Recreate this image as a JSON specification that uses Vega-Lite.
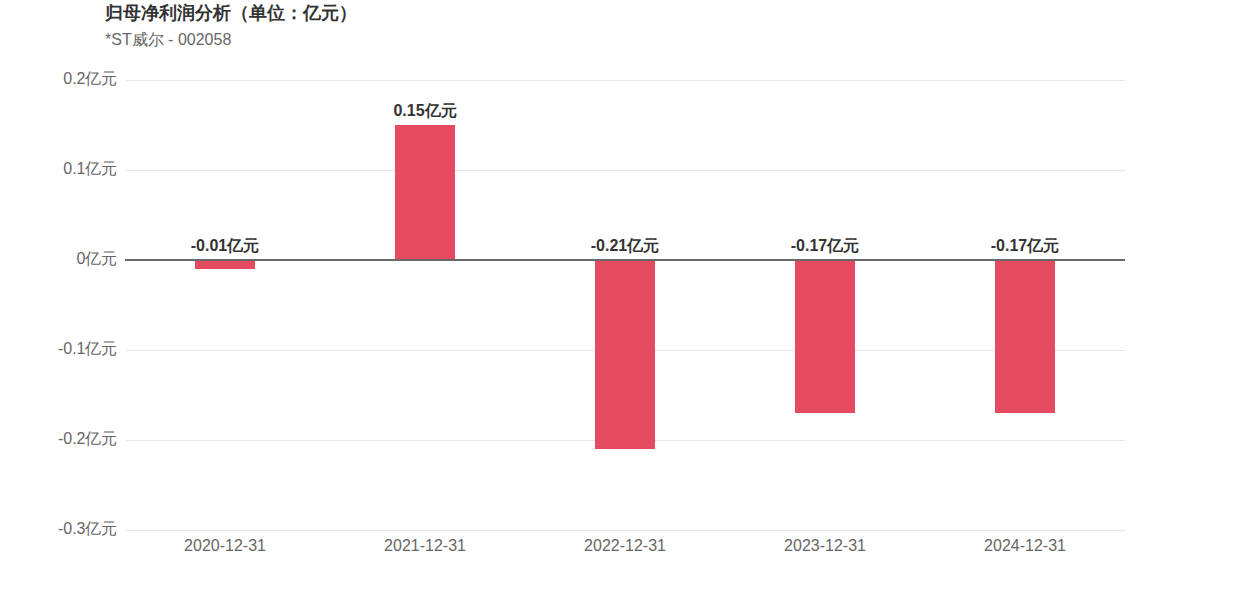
{
  "$schema": "https://vega.github.io/schema/vega-lite/v6.json",
  "width": 1000,
  "height": 450,
  "autosize": {"type": "none"},
  "padding": {"left": 125, "top": 80, "right": 125, "bottom": 70},
  "background": "white",
  "config": {"font": "Liberation Sans", "view": {"stroke": null}},
  "title": {
    "text": "归母净利润分析（单位：亿元）",
    "subtitle": "*ST威尔 - 002058",
    "anchor": "start",
    "frame": "group",
    "dx": -20,
    "offset": 22,
    "fontSize": 18,
    "fontWeight": "bold",
    "color": "#333333",
    "subtitleFontSize": 16,
    "subtitleColor": "#666666",
    "subtitlePadding": 9
  },
  "data": {"values": [
    {"date": "2020-12-31", "value": -0.01},
    {"date": "2021-12-31", "value": 0.15},
    {"date": "2022-12-31", "value": -0.21},
    {"date": "2023-12-31", "value": -0.17},
    {"date": "2024-12-31", "value": -0.17}
  ]},
  "encoding": {
    "x": {
      "field": "date", "type": "nominal", "sort": null,
      "scale": {"paddingInner": 0.7, "paddingOuter": 0.35},
      "axis": {"title": null, "labelAngle": 0, "domain": false, "ticks": false, "labelFontSize": 16, "labelColor": "#666666", "labelPadding": 7}
    }
  },
  "layer": [
    {
      "mark": {"type": "bar", "color": "#E54B5E"},
      "encoding": {
        "y": {
          "field": "value", "type": "quantitative",
          "scale": {"domain": [-0.3, 0.2], "nice": false, "zero": false},
          "axis": {
            "title": null, "values": [-0.3, -0.2, -0.1, 0, 0.1, 0.2],
            "labelExpr": "datum.value + '亿元'",
            "domain": false, "ticks": false, "grid": true, "gridColor": "#e6e6e6",
            "labelFontSize": 16, "labelColor": "#666666", "labelPadding": 8, "labelOffset": -2
          }
        }
      }
    },
    {
      "mark": {"type": "rule", "color": "#666666", "strokeWidth": 1},
      "encoding": {"y": {"datum": 0, "type": "quantitative"}, "x": {"value": 0}, "x2": {"value": 1000}}
    },
    {
      "transform": [
        {"calculate": "max(datum.value, 0)", "as": "labelY"},
        {"calculate": "datum.value + '亿元'", "as": "label"}
      ],
      "mark": {"type": "text", "baseline": "bottom", "dy": -6, "fontSize": 16, "fontWeight": "bold", "color": "#333333"},
      "encoding": {
        "y": {"field": "labelY", "type": "quantitative"},
        "text": {"field": "label"}
      }
    }
  ]
}
